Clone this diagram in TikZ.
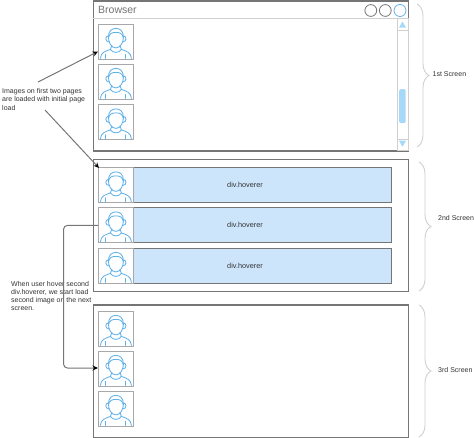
\documentclass[tikz,border=0pt]{standalone}
\usepackage{fontspec}
\setmainfont{Liberation Sans}
\usetikzlibrary{decorations.pathreplacing,arrows.meta}
\definecolor{frameg}{HTML}{757575}
\definecolor{thumbg}{HTML}{A8A8A8}
\definecolor{iconb}{HTML}{62B2EA}
\definecolor{hoverb}{HTML}{CDE5FB}
\definecolor{scrollb}{HTML}{A6D8F7}
\definecolor{lineg}{HTML}{D0D0D0}
\definecolor{txtg}{HTML}{333333}
\tikzset{
  screenbox/.style={draw=frameg,line width=1.2pt,fill=white,minimum width=315.5pt,anchor=north west,inner sep=0pt},
  thumbbox/.style={draw=thumbg,line width=0.8pt,fill=white,minimum width=35pt,minimum height=35pt,anchor=north west,inner sep=0pt},
  hoverbox/.style={draw=frameg,line width=1pt,fill=hoverb,minimum width=258pt,minimum height=35pt,anchor=north west,inner sep=0pt},
  lbl/.style={font=\fontsize{7}{8.2}\selectfont,text=txtg,inner sep=0pt},
  hovertext/.style={lbl,font=\fontsize{7.3}{8.2}\selectfont},
  note/.style={lbl,align=left,anchor=north west},
  conn/.style={draw=frameg,line width=1pt,-{Stealth[length=5.5pt,width=5pt,black]}},
  bracel/.style={draw=lineg,line width=0.9pt,decorate,decoration={brace,amplitude=12pt}},
  avatar/.pic={
    \begin{scope}[draw=iconb,line width=0.85pt,fill=none,line cap=round]
      \draw (-15.5,16.5) .. controls (-15,10.5) and (-11,9.5) .. (-5.5,7.5) -- (-4,3.5);
      \draw (15.5,16.5) .. controls (15,10.5) and (11,9.5) .. (5.5,7.5) -- (4,3.5);
      \draw (0,6) .. controls (-5,6) and (-7.5,0) .. (-7.5,-5) .. controls (-7.5,-11) and (-4,-13.5) .. (0,-13.5)
        .. controls (4,-13.5) and (7.5,-11) .. (7.5,-5) .. controls (7.5,0) and (5,6) .. (0,6) -- cycle;
      \draw (-7.5,-4) .. controls (-6.5,-8.5) and (-4,-9.5) .. (0,-9.5) .. controls (4,-9.5) and (6.5,-8.5) .. (7.5,-4);
      \draw (-7.5,-6) .. controls (-11,-6) and (-11,0) .. (-7,0);
      \draw (7.5,-6) .. controls (11,-6) and (11,0) .. (7,0);
      \draw (-5.5,7.5) .. controls (-3,11.5) and (3,11.5) .. (5.5,7.5);
      \draw (-10,16.5) -- (-10,12.5);
      \draw (10,16.5) -- (10,12.5);
    \end{scope}
  }
}
\newcommand{\thumb}[3]{% name, x, y
  \node[thumbbox] (#1) at (#2,#3) {};
  \pic at (#1.center) {avatar};
}
\begin{document}
\begin{tikzpicture}[x=1pt,y=-1pt]
\useasboundingbox (0,0) rectangle (474,438);
% screens
\node[screenbox,minimum height=150pt] (s1) at (92.5,0.5) {};
\node[screenbox,minimum height=132pt] (s2) at (92.5,159) {};
\node[screenbox,minimum height=132.5pt] (s3) at (92.5,304.5) {};
% browser chrome
\draw[lineg,line width=0.8pt] (s1.north west |- 0,18) coordinate (tl) -- (s1.north east |- 0,18) coordinate (tr);
\node[anchor=west,inner sep=0pt,font=\fontsize{10.5}{12}\selectfont,text=frameg] (title) at (98,10) {Browser};
\node[circle,draw=frameg,line width=0.8pt,minimum size=11.8pt,inner sep=0pt] (c1) at (370.8,10.5) {};
\node[circle,draw=frameg,line width=0.8pt,minimum size=11.8pt,inner sep=0pt] (c2) at (385.3,10.5) {};
\node[circle,draw=iconb,line width=0.8pt,minimum size=12pt,inner sep=0pt] (c3) at (400,10.5) {};
% scrollbar
\node[draw=lineg,line width=0.8pt,minimum width=11pt,minimum height=132pt,anchor=north west,inner sep=0pt] (sb) at (397,18) {};
\draw[lineg,line width=0.8pt] (397,30) -- (408,30) (397,139) -- (408,139);
\fill[scrollb] (399,27.7) -- (406,27.7) -- (402.5,21.5) -- cycle;
\fill[scrollb] (399,140.7) -- (406,140.7) -- (402.5,146.7) -- cycle;
\node[fill=scrollb,rounded corners=1.5pt,minimum width=6.5pt,minimum height=34pt,anchor=north west,inner sep=0pt] (sthumb) at (399,89) {};
% hoverers
\node[hoverbox] (h1) at (133,167.5) {};
\node[hoverbox] (h2) at (133,207.5) {};
\node[hoverbox] (h3) at (133,248) {};
\node[hovertext] (ht1) at (245,185) {div.hoverer};
\node[hovertext] (ht2) at (245,225) {div.hoverer};
\node[hovertext] (ht3) at (245,265.5) {div.hoverer};
% thumbnails
\thumb{a1}{98}{24}
\thumb{a2}{98}{64}
\thumb{a3}{98}{104.5}
\thumb{b1}{98}{167.5}
\thumb{b2}{98}{207.5}
\thumb{b3}{98}{248}
\thumb{c1t}{98}{311}
\thumb{c2t}{98}{351}
\thumb{c3t}{98}{391}
% braces
\coordinate (br1t) at (417,4);
\coordinate (br1b) at (417,147);
\coordinate (br2t) at (419,162);
\coordinate (br2b) at (419,291);
\coordinate (br3t) at (419,305);
\coordinate (br3b) at (419,437);
\draw[bracel] (br1t) -- (br1b);
\draw[bracel] (br2t) -- (br2b);
\draw[bracel] (br3t) -- (br3b);
\node[lbl,anchor=west] (l1) at (432.5,74.5) {1st Screen};
\node[lbl,anchor=west] (l2) at (438,218) {2nd Screen};
\node[lbl,anchor=west] (l3) at (438,370) {3rd Screen};
% notes
\node[note] (n1) at (2,88.5) {Images on first two pages\\are loaded with initial page\\load};
\node[note] (n2) at (11,281) {When user hover second\\div.hoverer, we start load\\second image on the next\\screen.};
% connectors
\coordinate (n1a) at (38,82);
\coordinate (n1b) at (45,110);
\coordinate (a1in) at (98,51.5);
\coordinate (b1in) at (99,168);
\coordinate (c2in) at (98,368);
\draw[conn] (n1a) -- (a1in);
\draw[conn] (n1b) -- (b1in);
\draw[conn,rounded corners=4pt] (b2.west) -| (63.5,368) -- (c2in);
\end{tikzpicture}
\end{document}
